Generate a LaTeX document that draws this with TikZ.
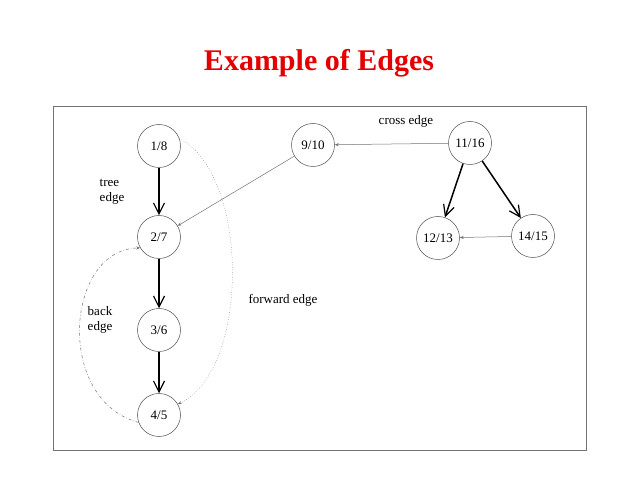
\documentclass[tikz,border=0pt]{standalone}
\usepackage{fontspec}
\setmainfont{Liberation Serif}
\usetikzlibrary{arrows.meta}
\begin{document}
\begin{tikzpicture}[x=1pt,y=-1pt,
  vert/.style={circle,draw=black!70,line width=0.5pt,minimum size=43pt,inner sep=0pt,font=\fontsize{13}{13}\selectfont},
  tree/.style={line width=1.5pt,-{Straight Barb[length=11pt,width=11pt,line width=1.2pt]}},
  thin/.style={draw=black!55,line width=0.5pt,-{Stealth[length=4pt,width=3pt]}},
  lbl/.style={font=\fontsize{13}{15}\selectfont,align=left}]
\useasboundingbox (0,0) rectangle (638,478);
\node[font=\bfseries\fontsize{30}{30}\selectfont,text=red!90!black] (title) at (319,63) {Example of Edges};
\draw[black!55,line width=0.8pt] (53,106) rectangle (586,450);
\node[vert] (a) at (159,146) {1/8};
\node[vert] (b) at (159,237) {2/7};
\node[vert] (c) at (159,330) {3/6};
\node[vert] (d) at (159,415) {4/5};
\node[vert] (e) at (313,145) {9/10};
\node[vert] (f) at (470,143) {11/16};
\node[vert] (g) at (438,238) {12/13};
\node[vert] (h) at (533,236) {14/15};
\draw[tree] (a) -- (b);
\draw[tree] (b) -- (c);
\draw[tree] (c) -- (d);
\draw[tree] (f) -- (g);
\draw[tree] (f) -- (h);
\draw[thin] (f) -- (e);
\draw[thin] (h) -- (g);
\draw[thin] (e) -- (b);
\draw[thin,dotted] (a.20) .. controls (250,175) and (250,370) .. (d.30);
\draw[thin,dash dot] (d.200) .. controls (55,400) and (65,250) .. (b.210);
\node[lbl] (t1) at (112,192) {tree\\edge};
\node[lbl] (t2) at (100,320) {back\\edge};
\node[lbl] (t3) at (283,300) {forward edge};
\node[lbl] (t4) at (406,121) {cross edge};
\end{tikzpicture}
\end{document}
